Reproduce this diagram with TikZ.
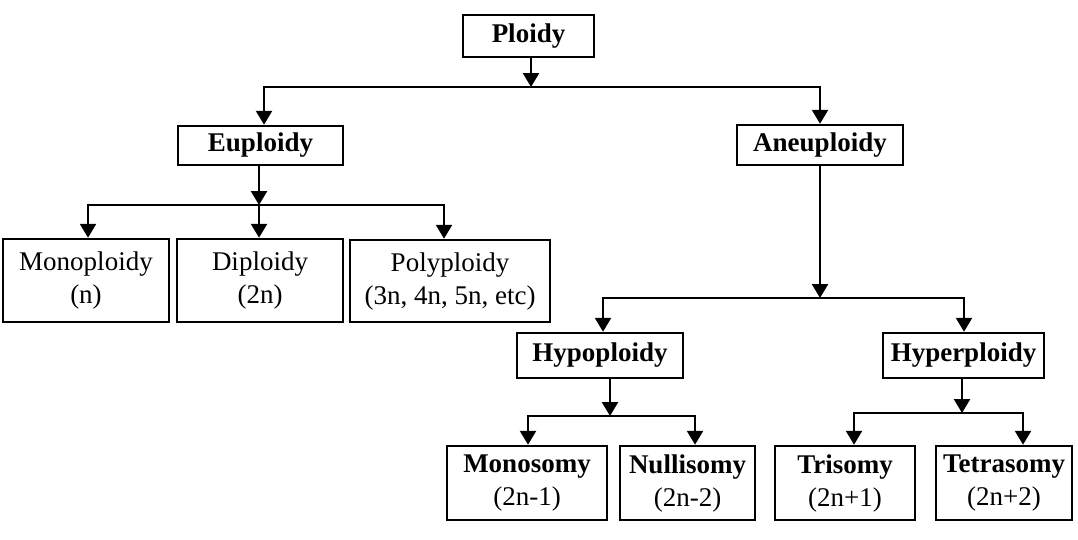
\documentclass[tikz,border=0pt]{standalone}
\usepackage{fontspec}
\setmainfont{Liberation Serif}
\usetikzlibrary{arrows.meta}
\begin{document}
\begin{tikzpicture}[x=1pt,y=-1pt,
  box/.style={draw, line width=2.5pt, rectangle, inner sep=0pt, align=center, font=\fontsize{27}{33}\selectfont},
  boxb/.style={box, font=\fontsize{27}{33}\selectfont\bfseries},
  conn/.style={line width=2.5pt, line cap=rect},
  arr/.style={line width=2.5pt, -{Triangle[width=16pt,length=14pt]}}]
\useasboundingbox (0,0) rectangle (1078,539);
% level 0
\node[boxb, minimum width=131pt, minimum height=42pt] (ploidy) at (528.5,36) {Ploidy};
% level 1
\node[boxb, minimum width=165pt, minimum height=39pt] (eu) at (260.5,145.5) {Euploidy};
\node[boxb, minimum width=166pt, minimum height=40pt] (aneu) at (820,145) {Aneuploidy};
% euploidy children
\node[box, minimum width=166pt, minimum height=83pt] (mono) at (86,280.5) {Monoploidy\\(n)};
\node[box, minimum width=166pt, minimum height=83pt] (di) at (260,280.5) {Diploidy\\(2n)};
\node[box, minimum width=200pt, minimum height=82pt] (poly) at (450,281) {Polyploidy\\(3n, 4n, 5n, etc)};
% aneuploidy children
\node[boxb, minimum width=166pt, minimum height=45pt] (hypo) at (600,355.5) {Hypoploidy};
\node[boxb, minimum width=161pt, minimum height=45pt] (hyper) at (963.5,355.5) {Hyperploidy};
% bottom
\node[box, minimum width=160pt, minimum height=74pt] (monos) at (527,483) {\textbf{Monosomy}\\(2n-1)};
\node[box, minimum width=135pt, minimum height=74pt] (nulli) at (687.5,483) {\textbf{Nullisomy}\\(2n-2)};
\node[box, minimum width=140pt, minimum height=74pt] (tri) at (845,483) {\textbf{Trisomy}\\(2n+1)};
\node[box, minimum width=136pt, minimum height=74pt] (tetra) at (1004,483) {\textbf{Tetrasomy}\\(2n+2)};
% connectors: ploidy
\coordinate (p1) at (531,87);
\coordinate (pl) at (264,87);
\coordinate (pr) at (820,87);
\draw[arr] (ploidy.south -| p1) -- (p1);
\draw[conn] (pl) -- (pr);
\draw[arr] (pl) -- (pl |- eu.north);
\draw[arr] (pr) -- (pr |- aneu.north);
% euploidy
\coordinate (e1) at (259,205);
\coordinate (el) at (88,205);
\coordinate (er) at (444,205);
\draw[arr] (eu.south -| e1) -- (e1);
\draw[conn] (el) -- (er);
\draw[arr] (el) -- (el |- mono.north);
\draw[arr] (e1) -- (e1 |- di.north);
\draw[arr] (er) -- (er |- poly.north);
% aneuploidy
\coordinate (a1) at (820,298);
\coordinate (al) at (603,298);
\coordinate (ar) at (964,298);
\draw[arr] (aneu.south -| a1) -- (a1);
\draw[conn] (al) -- (ar);
\draw[arr] (al) -- (al |- hypo.north);
\draw[arr] (ar) -- (ar |- hyper.north);
% hypoploidy
\coordinate (h1) at (610,416);
\coordinate (hl) at (528,416);
\coordinate (hr) at (695,416);
\draw[arr] (hypo.south -| h1) -- (h1);
\draw[conn] (hl) -- (hr);
\draw[arr] (hl) -- (hl |- monos.north);
\draw[arr] (hr) -- (hr |- nulli.north);
% hyperploidy
\coordinate (g1) at (962,413);
\coordinate (gl) at (854,413);
\coordinate (gr) at (1023,413);
\draw[arr] (hyper.south -| g1) -- (g1);
\draw[conn] (gl) -- (gr);
\draw[arr] (gl) -- (gl |- tri.north);
\draw[arr] (gr) -- (gr |- tetra.north);
\end{tikzpicture}
\end{document}
